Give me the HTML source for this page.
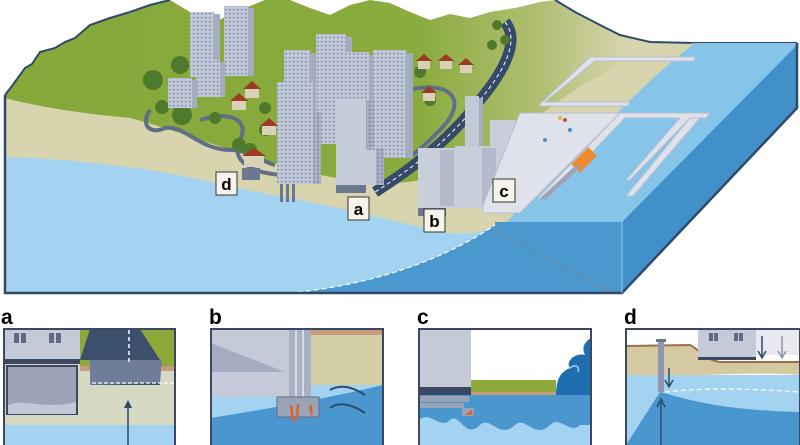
<!DOCTYPE html>
<html><head><meta charset="utf-8"><style>
html,body{margin:0;padding:0;background:#fff;}
svg{display:block;font-family:"Liberation Sans",Arial,sans-serif;}
</style></head><body>
<svg width="800" height="445" viewBox="0 0 800 445" xmlns="http://www.w3.org/2000/svg">
<defs>
<pattern id="win" width="4" height="4" patternUnits="userSpaceOnUse"><rect width="4" height="4" fill="#c3cad9"/><rect x="0.8" y="0.8" width="2" height="1.8" fill="#8e98b0"/></pattern>
<pattern id="win2" width="4" height="4" patternUnits="userSpaceOnUse"><rect width="4" height="4" fill="#a9b2c6"/><rect x="0.8" y="0.8" width="2" height="1.8" fill="#7f89a2"/></pattern>
<linearGradient id="hill" x1="0" y1="0" x2="1" y2="0"><stop offset="0" stop-color="#86a83a"/><stop offset="0.6" stop-color="#8aab3e"/><stop offset="0.78" stop-color="#b2bf75"/><stop offset="0.9" stop-color="#d8d5ae"/></linearGradient>
</defs>
<!-- hills -->
<path d="M5,95 L12,86 L25,68 L32,64 L40,52 L55,48 L65,42 L75,38 L90,25 L110,18 L130,12 L150,5 L170,0 L195,15 L215,22 L240,10 L265,0 L290,0 L310,8 L330,15 L350,5 L370,0 L390,3 L410,12 L430,20 L450,14 L470,18 L490,12 L515,8 L540,2 L555,0 L575,12 L600,25 L620,35 L650,42 L695,43 L495,235 L5,235 Z" fill="url(#hill)"/>
<path d="M5,95 L12,86 L25,68 L32,64 L40,52 L55,48 L65,42 L75,38 L90,25 L110,18 L130,12 L150,5 L170,0 M555,0 L575,12 L600,25 L620,35 L650,42 L695,43 L797,43" fill="none" stroke="#2e4a6b" stroke-width="2"/>
<!-- beach -->
<path d="M5,98 C50,110 100,115 130,118 C170,128 220,148 270,162 C320,175 370,190 420,180 C470,165 520,130 560,100 C600,72 650,50 695,43 L495,235 L5,235 Z" fill="#d8d4ad"/>
<!-- top ocean surface -->
<path d="M695,43 L797,43 L797,50 L622,222 L495,222 L495,235 C530,195 580,150 620,110 C650,80 675,58 695,43 Z" fill="#86c4ea"/>
<!-- light water left -->
<path d="M5,157 C50,158 100,163 150,170 C200,178 240,190 290,198 C350,210 400,222 440,232 C470,236 485,232 495,225 L495,230 C440,262 370,285 290,293 L5,293 Z" fill="#a3d3f0"/>
<!-- front face -->
<path d="M495,222 L622,222 L622,293 L290,293 C370,285 440,262 495,225 Z" fill="#4b98cf"/>
<path d="M290,293 C370,285 440,262 495,225" fill="none" stroke="#fff" stroke-width="1.2" stroke-dasharray="5,3"/>
<path d="M495,232 C530,245 540,258 555,262 C575,270 590,285 615,292" fill="none" stroke="#6f8a9a" stroke-width="1"/>
<!-- right face -->
<path d="M622,222 L797,45 L797,108 L622,293 Z" fill="#4290c9"/>
<path d="M5,95 L5,293 L622,293 L797,108 L797,43" fill="none" stroke="#2e4a6b" stroke-width="2.5"/>
<line x1="622" y1="222" x2="622" y2="293" stroke="#8ec6ea" stroke-width="1"/>
<!-- roads on hill -->
<path d="M150,110 C140,125 150,135 165,128 C185,125 200,150 230,150 C250,150 262,162 275,165" fill="none" stroke="#5f6f86" stroke-width="4"/>
<path d="M200,120 C230,110 250,120 240,140 C230,160 250,175 290,175" fill="none" stroke="#5f6f86" stroke-width="4"/>
<path d="M410,90 C450,80 470,100 440,130 C430,140 420,150 412,155" fill="none" stroke="#5f6f86" stroke-width="4"/>
<!-- main road -->
<path d="M505,22 C520,40 505,70 480,100 C450,140 410,170 375,192" fill="none" stroke="#354a68" stroke-width="11"/>
<path d="M505,22 C520,40 505,70 480,100 C450,140 410,170 375,192" fill="none" stroke="#fff" stroke-width="1" stroke-dasharray="4,3"/>
<!-- trees -->
<g fill="#4f7a2c">
<circle cx="153" cy="80" r="10"/><circle cx="180" cy="65" r="9"/><circle cx="162" cy="107" r="7"/><circle cx="182" cy="115" r="10"/><circle cx="265" cy="130" r="6"/><circle cx="250" cy="150" r="7"/><circle cx="239" cy="145" r="7"/><circle cx="215" cy="118" r="6"/><circle cx="430" cy="100" r="6"/><circle cx="420" cy="72" r="6"/><circle cx="497" cy="25" r="5"/><circle cx="505" cy="40" r="5"/><circle cx="492" cy="45" r="5"/><circle cx="265" cy="108" r="6"/>
</g>
<!-- houses -->
<g>
<rect x="232" y="100" width="14" height="10" fill="#d9d2b8"/><path d="M230,101 L239,93 L248,101Z" fill="#9c3b22"/>
<rect x="245" y="88" width="14" height="10" fill="#d9d2b8"/><path d="M243,89 L252,81 L261,89Z" fill="#9c3b22"/>
<rect x="262" y="125" width="14" height="10" fill="#d9d2b8"/><path d="M260,126 L269,118 L278,126Z" fill="#9c3b22"/>
<rect x="244" y="155" width="20" height="12" fill="#d9d2b8"/><path d="M242,156 L254,148 L266,156Z" fill="#9c3b22"/>
<rect x="418" y="60" width="12" height="9" fill="#d9d2b8"/><path d="M416,61 L424,54 L432,61Z" fill="#9c3b22"/>
<rect x="440" y="60" width="12" height="9" fill="#d9d2b8"/><path d="M438,61 L446,54 L454,61Z" fill="#9c3b22"/>
<rect x="460" y="64" width="12" height="9" fill="#d9d2b8"/><path d="M458,65 L466,58 L474,65Z" fill="#9c3b22"/>
<rect x="423" y="92" width="12" height="9" fill="#d9d2b8"/><path d="M421,93 L429,86 L437,93Z" fill="#9c3b22"/>
</g>
<!-- towers back -->
<rect x="190" y="12" width="24" height="65" fill="url(#win)"/><rect x="214" y="14" width="6" height="63" fill="#a4adc0"/>
<rect x="224" y="6" width="24" height="70" fill="url(#win)"/><rect x="248" y="8" width="6" height="68" fill="#a4adc0"/>
<rect x="196" y="60" width="24" height="37" fill="url(#win)"/><rect x="220" y="62" width="5" height="35" fill="#a4adc0"/>
<rect x="168" y="78" width="24" height="30" fill="url(#win)"/><rect x="192" y="80" width="5" height="28" fill="#a4adc0"/>
<rect x="284" y="50" width="26" height="90" fill="url(#win)"/><rect x="310" y="53" width="6" height="87" fill="#a4adc0"/>
<rect x="316" y="34" width="30" height="110" fill="url(#win)"/><rect x="346" y="37" width="6" height="107" fill="#a4adc0"/>
<rect x="343" y="52" width="26" height="100" fill="url(#win)"/><rect x="369" y="55" width="6" height="97" fill="#a4adc0"/>
<rect x="373" y="50" width="33" height="108" fill="url(#win)"/><rect x="406" y="53" width="7" height="105" fill="#a4adc0"/>
<rect x="336" y="100" width="30" height="60" fill="#c6ccda"/><rect x="366" y="100" width="8" height="60" fill="url(#win2)"/>
<rect x="277" y="82" width="36" height="102" fill="url(#win)"/><rect x="313" y="112" width="8" height="72" fill="url(#win2)"/>
<rect x="280" y="184" width="3" height="18" fill="#6c7890"/><rect x="286" y="184" width="3" height="18" fill="#6c7890"/><rect x="292" y="184" width="3" height="18" fill="#6c7890"/>
<rect x="336" y="150" width="40" height="35" fill="#c6ccda"/><rect x="376" y="148" width="8" height="37" fill="url(#win2)"/>
<rect x="336" y="185" width="30" height="8" fill="#6c7890"/>
<rect x="242" y="168" width="18" height="12" fill="#6c7890"/>
<!-- industrial -->
<rect x="465" y="96" width="14" height="80" fill="#c3c9d7"/><rect x="479" y="98" width="4" height="78" fill="#a4adc0"/>
<rect x="490" y="120" width="38" height="85" fill="#c9cedb"/><rect x="518" y="122" width="14" height="80" fill="url(#win2)"/>
<rect x="418" y="148" width="38" height="60" fill="#c9cedb"/><rect x="440" y="150" width="14" height="56" fill="#b2bacb"/>
<rect x="455" y="146" width="40" height="62" fill="#c9cedb"/><rect x="482" y="148" width="14" height="58" fill="#b2bacb"/>
<rect x="418" y="208" width="28" height="8" fill="#6c7890"/>
<!-- port -->
<path d="M520,113 L620,113 L520,213 L483,213 L483,205 Z" fill="#dfe2ea" stroke="#b8bfcd" stroke-width="1"/>
<path d="M620,113 L710,113 L706,118 L690,118 L630,180 L626,180 L680,118 L625,118 L548,198 L538,198 Z" fill="#dfe2ea" stroke="#b8bfcd" stroke-width="1"/>
<path d="M690,118 L700,118 L633,196 L626,196 Z" fill="#dfe2ea" stroke="#b8bfcd"/>
<path d="M590,57 L695,57 L694,61 L595,61 L545,102 L630,102 L628,106 L538,106 Z" fill="#dfe2ea" stroke="#b8bfcd"/>
<rect x="578" y="148" width="12" height="24" fill="#f08a2e" transform="rotate(45 584 160)"/>
<path d="M560,180 L576,165 L580,168 L545,200 L540,198Z" fill="#9ca5b6"/>
<circle cx="565" cy="120" r="2" fill="#d14a4a"/><circle cx="570" cy="130" r="2" fill="#4d8bcf"/><circle cx="560" cy="118" r="2" fill="#e5b43a"/><circle cx="545" cy="140" r="2" fill="#4d8bcf"/>
<!-- labels main -->
<g font-weight="bold" font-size="17" text-anchor="middle">
<rect x="216" y="172" width="21" height="23" fill="#f6f4ea" stroke="#333"/><text x="226.5" y="190">d</text>
<rect x="348" y="197" width="21" height="23" fill="#f6f4ea" stroke="#333"/><text x="358.5" y="215">a</text>
<rect x="424" y="209" width="21" height="23" fill="#f6f4ea" stroke="#333"/><text x="434.5" y="227">b</text>
<rect x="493" y="179" width="22" height="23" fill="#f6f4ea" stroke="#333"/><text x="504" y="197">c</text>
</g>
<!-- bottom labels -->
<g font-weight="bold" font-size="21">
<text x="1" y="324">a</text><text x="209" y="324">b</text><text x="417" y="324">c</text><text x="624" y="324">d</text>
</g>
<!-- Panel a -->
<g>
<rect x="4" y="329" width="76" height="30" fill="#c5cad8"/>
<rect x="14" y="333" width="5" height="10" fill="#5e6b84"/><rect x="21" y="333" width="5" height="10" fill="#5e6b84"/><rect x="49" y="333" width="5" height="10" fill="#5e6b84"/><rect x="56" y="333" width="5" height="10" fill="#5e6b84"/>
<rect x="4" y="359" width="76" height="5" fill="#3a4862"/>
<rect x="80" y="329" width="95" height="37" fill="#8ea83a"/>
<rect x="80" y="366" width="95" height="5" fill="#c79b7a"/>
<rect x="80" y="371" width="95" height="54" fill="#d5d9c2"/>
<rect x="4" y="364" width="76" height="61" fill="#d5d9c2"/>
<rect x="4" y="425" width="171" height="20" fill="#a3d3f0"/>
<rect x="7" y="366" width="70" height="48" fill="#9aa4b6" stroke="#3a4862" stroke-width="2"/>
<path d="M8,405 C25,398 45,410 76,402 L76,414 L8,414Z" fill="#c0cad6"/>
<path d="M90,329 L140,329 L160,360 L160,385 L90,385 L90,360 L80,360 Z" fill="#3c4f6c"/>
<path d="M90,360 L162,360 L160,383 L90,385 Z" fill="#6f7d98"/>
<line x1="129" y1="330" x2="129" y2="362" stroke="#fff" stroke-width="1.5" stroke-dasharray="4,3"/>
<line x1="92" y1="383" x2="175" y2="383" stroke="#fff" stroke-width="1.2" stroke-dasharray="4,2"/>
<line x1="128" y1="445" x2="128" y2="406" stroke="#2e4a6b" stroke-width="1.5"/><path d="M124,408 L128,400 L132,408Z" fill="#2e4a6b"/>
<rect x="4" y="329" width="171" height="120" fill="none" stroke="#3a4862" stroke-width="2"/>
</g>
<!-- Panel b -->
<g>
<rect x="211" y="329" width="172" height="116" fill="#a3d3f0"/>
<rect x="310" y="329" width="73" height="6" fill="#c79b7a"/>
<rect x="310" y="335" width="73" height="50" fill="#d5cfa8"/>
<rect x="211" y="329" width="80" height="68" fill="#c4cad8"/>
<path d="M211,343 L285,372 L211,372Z" fill="#a4adc0"/>
<path d="M211,418 C260,410 320,400 383,385 L383,445 L211,445Z" fill="#4a96cf"/>
<rect x="289" y="329" width="22" height="70" fill="#a8b1c3"/>
<line x1="296" y1="329" x2="296" y2="412" stroke="#e5e8ef" stroke-width="1.5"/><line x1="303" y1="329" x2="303" y2="412" stroke="#e5e8ef" stroke-width="1.5"/>
<rect x="277" y="397" width="42" height="20" fill="#9aa4b6" stroke="#5e6b84"/>
<path d="M291,405 L293,422 M298,404 L297,420 M310,405 L312,415" stroke="#d8642c" stroke-width="2.5"/>
<path d="M365,395 C350,385 338,385 330,390" fill="none" stroke="#2e4a6b" stroke-width="2"/><path d="M365,413 C350,403 338,402 330,408" fill="none" stroke="#2e4a6b" stroke-width="2"/>
<rect x="211" y="329" width="172" height="120" fill="none" stroke="#3a4862" stroke-width="2"/>
</g>
<!-- Panel c -->
<g>
<rect x="419" y="329" width="172" height="116" fill="#fff"/>
<rect x="419" y="329" width="52" height="58" fill="#c4cad8"/>
<rect x="419" y="387" width="52" height="8" fill="#3a4862"/>
<rect x="471" y="380" width="85" height="12" fill="#8ea83a"/>
<rect x="471" y="392" width="85" height="3" fill="#c79b7a"/>
<path d="M419,395 L591,395 L591,445 L419,445Z" fill="#4a96cf"/>
<path d="M419,420 C430,410 440,430 450,420 C460,412 465,440 480,425 C490,415 500,440 515,425 C525,415 535,440 550,425 C560,415 570,435 580,425 L591,425 L591,445 L419,445Z" fill="#a3d3f0"/>
<rect x="419" y="396" width="50" height="6" fill="#9aa4b6"/><rect x="419" y="403" width="45" height="5" fill="#9aa4b6"/>
<rect x="462" y="408" width="12" height="8" fill="#9aa4b6"/><path d="M465,415 L472,410 L473,415Z" fill="#d8642c"/>
<path d="M556,395 C556,380 560,372 570,368 C565,362 575,352 585,355 C580,345 588,340 591,338 L591,395 Z" fill="#1f6fb0"/>
<path d="M570,368 C575,364 580,366 578,372" fill="none" stroke="#a3d3f0" stroke-width="1.5"/>
<rect x="419" y="329" width="172" height="120" fill="none" stroke="#3a4862" stroke-width="2"/>
</g>
<!-- Panel d -->
<g>
<rect x="626" y="329" width="174" height="116" fill="#fff"/>
<path d="M626,346 L690,345 C700,350 705,360 720,362 L800,362 L800,375 C760,372 720,375 700,375 L626,375 Z" fill="#d4c9a0"/>
<path d="M626,346 L690,345 C700,350 705,360 720,362 L800,362" fill="none" stroke="#9c6e4a" stroke-width="2"/>
<path d="M626,375 L800,375 L800,445 L626,445 Z" fill="#a3d3f0"/>
<path d="M626,445 L660,392 C690,400 720,410 800,412 L800,445 Z" fill="#4a96cf"/>
<path d="M665,392 C700,388 740,388 800,392" fill="none" stroke="#fff" stroke-width="1.2" stroke-dasharray="5,3"/>
<rect x="698" y="329" width="58" height="30" fill="#c4cad8"/><rect x="698" y="357" width="58" height="3" fill="#3a4862"/>
<rect x="709" y="333" width="4" height="8" fill="#5e6b84"/><rect x="714" y="333" width="4" height="8" fill="#5e6b84"/><rect x="734" y="333" width="4" height="8" fill="#5e6b84"/><rect x="739" y="333" width="4" height="8" fill="#5e6b84"/>
<rect x="756" y="329" width="44" height="26" fill="#e8eaf0"/>
<rect x="658" y="340" width="6" height="52" fill="#8e98b0"/><rect x="656" y="339" width="10" height="3" fill="#6c7890"/>
<path d="M762,336 L762,356 M758,351 L762,358 L766,351" fill="none" stroke="#2e4a6b" stroke-width="1.5"/>
<path d="M782,336 L782,356 M778,351 L782,358 L786,351" fill="none" stroke="#8e98b0" stroke-width="1.5"/>
<path d="M669,368 L669,385 M665,380 L669,387 L673,380" fill="none" stroke="#2e4a6b" stroke-width="1.5"/>
<path d="M661,445 L661,402 M657,407 L661,399 L665,407" fill="none" stroke="#2e4a6b" stroke-width="1.5"/>
<rect x="626" y="329" width="174" height="120" fill="none" stroke="#3a4862" stroke-width="2"/>
</g>
</svg>
</body></html>
